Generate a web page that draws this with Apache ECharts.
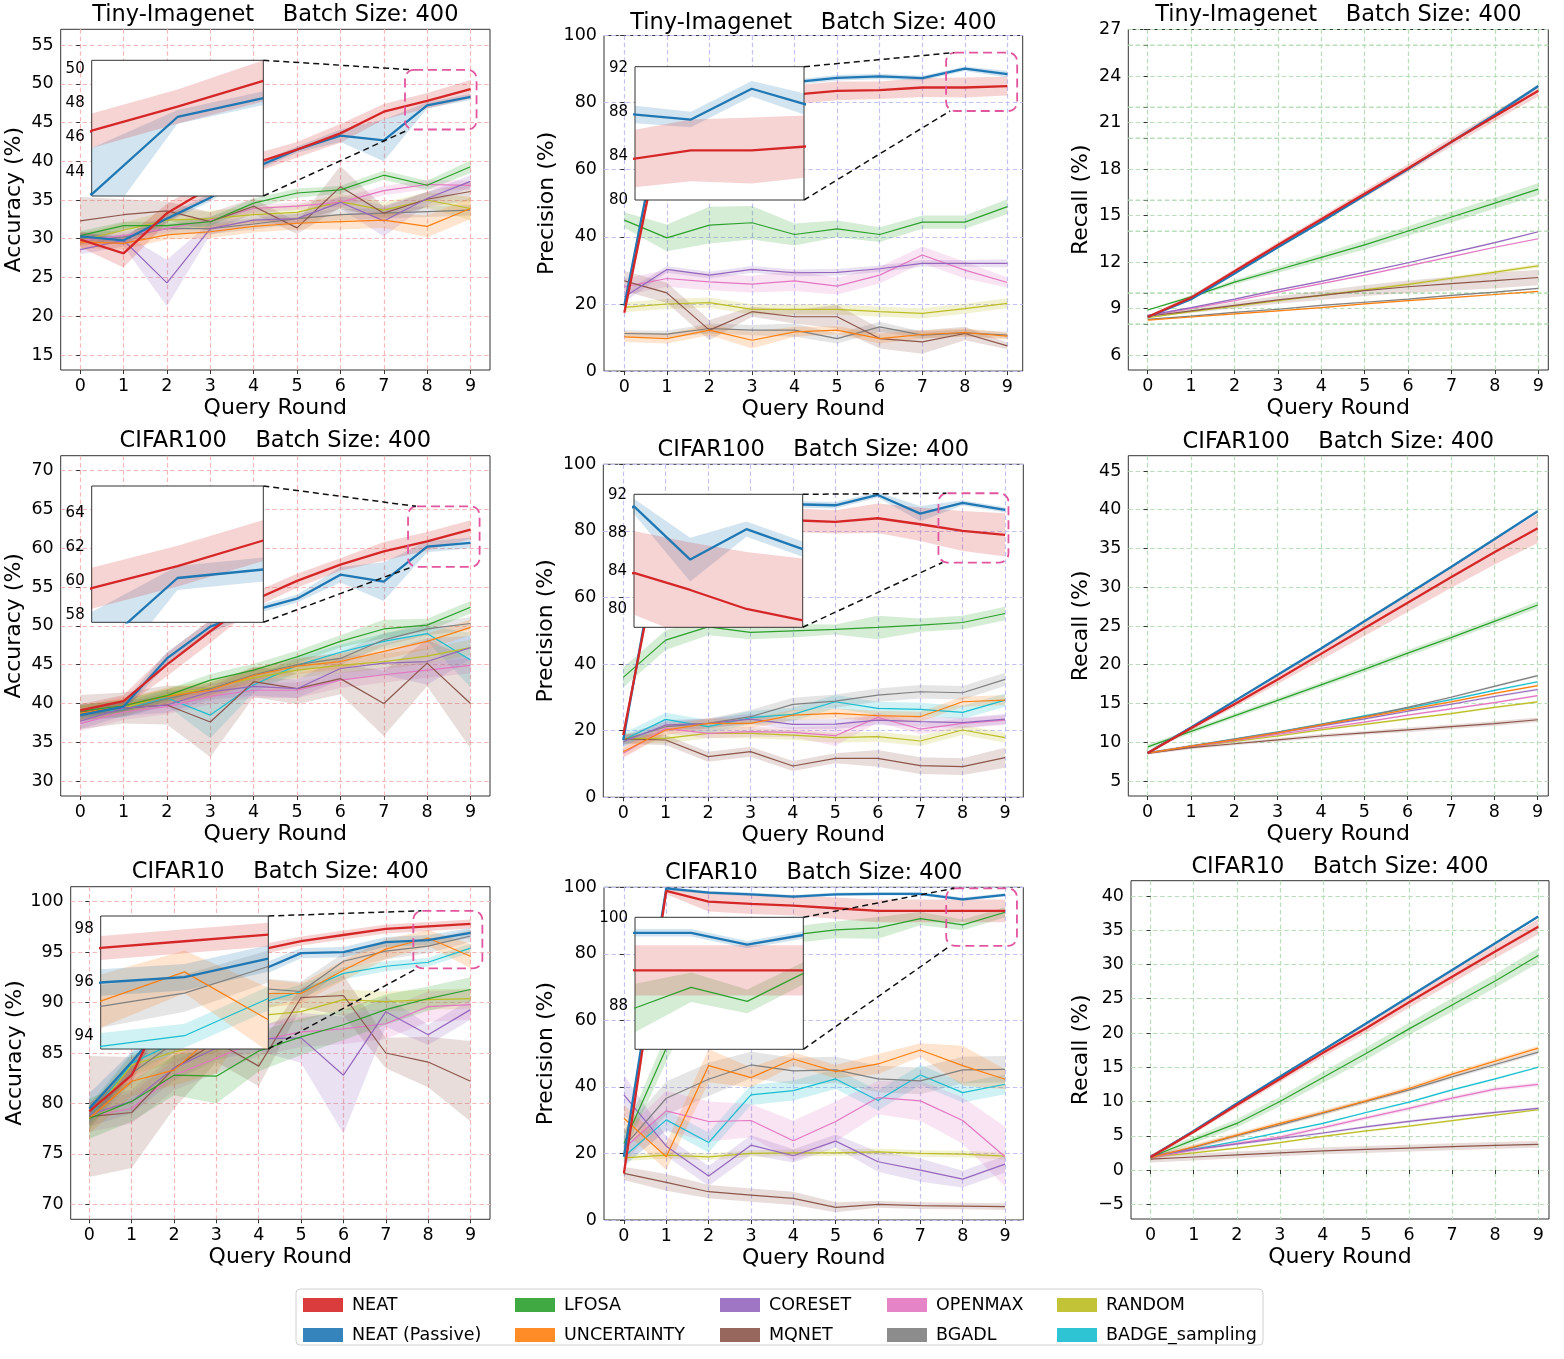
<!DOCTYPE html>
<html>
<head>
<meta charset="utf-8">
<script src="https://cdn.jsdelivr.net/npm/echarts@6/dist/echarts.min.js"></script>
<style>
  html, body { margin: 0; padding: 0; background: #fff; }
  #chart { width: 1564px; height: 1359px; }
</style>
</head>
<body>
<div id="chart"></div>
<script>
// ---- data ----
const rounds = [0, 1, 2, 3, 4, 5, 6, 7, 8, 9];
const methods = ['NEAT', 'NEAT (Passive)', 'LFOSA', 'UNCERTAINTY', 'CORESET', 'MQNET', 'OPENMAX', 'BGADL', 'RANDOM', 'BADGE_sampling'];
const colors = ['#d62728', '#1f77b4', '#2ca02c', '#ff7f0e', '#9467bd', '#8c564b', '#e377c2', '#7f7f7f', '#bcbd22', '#17becf'];

// tick labels
const accTicksTiny = [15, 20, 25, 30, 35, 40, 45, 50, 55];
const accTicksC100 = [30, 35, 40, 45, 50, 55, 60, 65, 70];
const accTicksC10 = [70, 75, 80, 85, 90, 95, 100];
const precTicks = [0, 20, 40, 60, 80, 100];
const recallTicksTiny = [6, 9, 12, 15, 18, 21, 24, 27];
const recallMinorTiny = [8, 10, 14, 16, 20, 22, 26];
const recallTicksC100 = [5, 10, 15, 20, 25, 30, 35, 40, 45];
const recallTicksC10 = [-5, 0, 5, 10, 15, 20, 25, 30, 35, 40];
const insetTicksTinyAcc = [44, 46, 48, 50];
const insetTicksTinyPrec = [80, 84, 88, 92];
const insetTicksC100Acc = [58, 60, 62, 64];
const insetTicksC100Prec = [80, 84, 88, 92];
const insetTicksC10Acc = [94, 96, 98];
const insetTicksC10Prec = [88, 100];

// means, in the order of `methods` (null = not run)
const tinyAcc = [
  [29.9, 28.1, 33.3, 36.6, 39.7, 41.5, 43.6, 46.4, 47.8, 49.3],
  [30.3, 29.8, 32.6, 35.3, 39.1, 41.5, 43.3, 42.7, 47.2, 48.3],
  [30.4, 31.7, 31.7, 32.2, 34.6, 35.9, 36.3, 38.2, 36.9, 39.3],
  [29.6, 29.4, 30.5, 30.9, 31.6, 32.0, 32.2, 32.4, 31.6, 33.9],
  [28.6, 29.8, 24.3, 31.3, 32.4, 32.6, 34.7, 32.3, 35.2, 37.4],
  [32.3, 33.1, 33.6, 32.2, 34.2, 31.4, 36.7, 33.3, 35.1, 36.1],
  [29.8, 30.4, 31.3, 32.4, 33.9, 34.2, 34.7, 36.2, 37.0, 36.9],
  [30.1, 30.2, 31.3, 31.3, 31.9, 32.6, 33.1, 33.3, 33.5, 33.7],
  [29.8, 31.1, 32.4, 32.6, 33.1, 33.4, 34.8, 33.7, 35.0, 33.9],
  null
];
const tinyAccBand = [
  [1.0, 1.8, 1.2, 1.2, 1.2, 1.0, 1.2, 1.0, 1.0, 1.2],
  [0.4, 0.6, 0.5, 0.5, 0.5, 0.4, 0.8, 2.7, 0.4, 0.4],
  [0.6, 0.5, 0.5, 0.6, 0.6, 0.6, 0.5, 0.6, 0.6, 0.8],
  [0.8, 0.8, 0.6, 0.8, 0.8, 0.8, 1.0, 1.0, 1.4, 1.4],
  [0.6, 0.8, 3.0, 0.8, 0.6, 0.6, 0.8, 2.0, 0.8, 0.8],
  [3.1, 2.0, 1.2, 1.2, 1.0, 0.8, 2.7, 0.8, 1.0, 1.2],
  [0.5, 0.5, 0.5, 0.5, 0.5, 0.5, 0.6, 0.6, 0.6, 0.6],
  [0.8, 0.8, 0.7, 0.7, 0.7, 0.7, 0.7, 0.7, 0.7, 0.7],
  [0.8, 1.0, 1.2, 1.0, 1.0, 1.0, 1.0, 1.0, 1.0, 1.5],
  null
];

const tinyPrec = [
  [17.4, 79.5, 81.0, 82.0, 82.4, 83.5, 83.7, 84.5, 84.5, 84.9],
  [19.5, 84.0, 85.0, 86.0, 86.1, 87.4, 87.8, 87.3, 90.1, 88.5],
  [45.0, 39.7, 43.5, 44.2, 40.7, 42.4, 40.7, 44.4, 44.4, 49.0],
  [10.2, 9.7, 12.2, 9.2, 11.7, 12.2, 9.7, 10.9, 11.5, 10.4],
  [22.1, 30.3, 28.6, 30.3, 29.3, 29.4, 30.5, 32.1, 32.1, 32.1],
  [26.9, 23.3, 12.2, 17.7, 16.2, 16.2, 9.7, 8.7, 11.2, 7.5],
  [25.1, 27.6, 26.6, 25.9, 26.9, 25.3, 28.6, 34.6, 30.1, 26.4],
  [11.2, 11.0, 12.7, 12.2, 12.2, 9.7, 13.2, 10.7, 11.4, 10.7],
  [19.0, 20.0, 20.4, 18.4, 18.4, 18.4, 17.7, 17.2, 18.6, 20.2],
  null
];
const tinyPrecBand = [
  [1.0, 3.0, 3.0, 3.0, 2.8, 2.8, 2.6, 2.8, 3.0, 2.8],
  [1.0, 1.0, 1.0, 1.0, 0.8, 0.8, 0.8, 0.7, 0.7, 1.0],
  [2.3, 4.0, 5.5, 5.0, 3.3, 2.5, 2.2, 2.0, 2.0, 2.2],
  [1.5, 1.5, 1.5, 2.5, 1.5, 1.2, 1.5, 1.2, 1.2, 1.0],
  [1.5, 1.0, 1.0, 1.0, 1.0, 1.0, 1.0, 1.0, 1.0, 1.2],
  [3.0, 3.0, 3.0, 1.5, 2.0, 3.5, 3.0, 3.5, 2.0, 1.0],
  [2.5, 2.5, 2.5, 2.5, 3.0, 2.5, 2.5, 2.5, 2.5, 1.5],
  [1.0, 1.0, 1.5, 1.5, 2.0, 1.5, 1.5, 1.0, 1.0, 1.0],
  [1.5, 1.5, 1.5, 1.5, 1.5, 1.5, 1.5, 1.5, 1.5, 1.5],
  null
];

const tinyRecall = [
  [8.45, 9.7, 11.4, 13.1, 14.75, 16.4, 18.05, 19.75, 21.4, 23.05],
  [8.45, 9.6, 11.25, 12.95, 14.6, 16.3, 18.0, 19.75, 21.5, 23.35],
  [8.9, 9.75, 10.7, 11.5, 12.3, 13.1, 14.0, 14.9, 15.8, 16.7],
  [8.25, 8.45, 8.65, 8.85, 9.05, 9.3, 9.5, 9.7, 9.9, 10.1],
  [8.55, 9.05, 9.6, 10.2, 10.75, 11.35, 11.95, 12.6, 13.25, 13.95],
  [8.5, 8.85, 9.2, 9.55, 9.85, 10.15, 10.4, 10.6, 10.8, 11.0],
  [8.5, 9.0, 9.5, 10.05, 10.6, 11.15, 11.75, 12.35, 12.95, 13.5],
  [8.3, 8.5, 8.75, 8.95, 9.2, 9.4, 9.6, 9.85, 10.05, 10.3],
  [8.4, 8.8, 9.15, 9.5, 9.85, 10.2, 10.55, 10.95, 11.35, 11.75],
  null
];
const tinyRecallBand = [
  [0.1, 0.12, 0.15, 0.18, 0.2, 0.22, 0.25, 0.28, 0.3, 0.35],
  [0.05, 0.06, 0.07, 0.08, 0.1, 0.1, 0.1, 0.12, 0.12, 0.12],
  [0.05, 0.1, 0.15, 0.2, 0.25, 0.3, 0.3, 0.35, 0.35, 0.4],
  [0.05, 0.05, 0.05, 0.05, 0.05, 0.05, 0.05, 0.05, 0.05, 0.05],
  [0.05, 0.05, 0.05, 0.05, 0.05, 0.05, 0.05, 0.05, 0.05, 0.05],
  [0.1, 0.15, 0.2, 0.25, 0.3, 0.35, 0.4, 0.45, 0.5, 0.5],
  [0.05, 0.05, 0.05, 0.05, 0.05, 0.05, 0.05, 0.05, 0.05, 0.05],
  [0.05, 0.05, 0.05, 0.05, 0.05, 0.05, 0.05, 0.05, 0.05, 0.05],
  [0.05, 0.05, 0.06, 0.07, 0.08, 0.09, 0.1, 0.1, 0.12, 0.12],
  null
];

const c100Acc = [
  [39.1, 40.3, 45.0, 49.3, 53.3, 55.8, 57.9, 59.6, 60.9, 62.4],
  [38.5, 39.6, 45.8, 49.9, 52.0, 53.5, 56.6, 55.7, 60.2, 60.7],
  [39.0, 39.7, 41.0, 43.0, 44.3, 46.0, 48.0, 49.6, 50.1, 52.4],
  [38.7, 39.8, 40.9, 41.7, 43.6, 44.8, 45.4, 46.7, 48.0, 49.8],
  [37.7, 39.4, 39.8, 41.5, 42.2, 41.9, 44.5, 45.2, 45.4, 47.2],
  [38.9, 39.4, 39.8, 37.6, 42.8, 41.9, 43.2, 40.0, 45.2, 40.0],
  [37.4, 38.9, 39.6, 40.9, 41.7, 41.7, 43.0, 43.7, 44.3, 44.9],
  [38.5, 39.1, 40.6, 41.9, 43.7, 45.0, 45.8, 48.2, 49.6, 50.3],
  [38.8, 39.4, 41.1, 42.0, 43.3, 44.3, 44.9, 45.4, 46.1, 47.2],
  [38.9, 39.2, 40.7, 38.5, 42.4, 44.9, 46.6, 48.0, 49.0, 45.6]
];
const c100AccBand = [
  [0.8, 0.8, 1.5, 1.5, 1.0, 0.9, 0.8, 1.2, 1.2, 1.2],
  [0.6, 0.6, 0.8, 0.8, 0.5, 0.5, 1.0, 2.5, 0.7, 0.7],
  [0.8, 0.8, 0.8, 0.8, 0.8, 0.8, 0.8, 1.2, 0.8, 0.8],
  [1.0, 1.0, 1.0, 1.0, 1.0, 1.0, 1.0, 1.0, 1.0, 1.0],
  [1.0, 1.0, 1.0, 1.0, 1.2, 1.2, 1.5, 1.5, 3.0, 1.5],
  [2.2, 2.0, 2.5, 4.5, 2.0, 2.0, 2.0, 4.2, 3.0, 5.8],
  [1.0, 1.0, 1.0, 1.0, 1.0, 1.0, 1.0, 1.0, 1.0, 1.0],
  [0.8, 0.8, 0.8, 0.8, 0.8, 0.8, 0.8, 0.8, 0.8, 0.8],
  [1.0, 1.0, 1.0, 1.0, 1.0, 1.0, 1.0, 1.0, 1.0, 1.0],
  [1.0, 1.0, 1.0, 3.0, 1.0, 1.0, 1.0, 1.0, 1.0, 3.5]
];

const c100Prec = [
  [18.7, 84.0, 84.5, 84.0, 83.2, 82.7, 83.8, 82.0, 80.0, 78.8],
  [17.2, 88.0, 87.5, 88.0, 88.0, 87.7, 90.8, 85.2, 88.4, 86.3],
  [36.0, 47.2, 51.2, 49.5, 50.0, 50.4, 51.0, 51.7, 52.5, 55.2],
  [13.7, 20.2, 22.2, 22.2, 24.7, 25.2, 24.5, 24.2, 28.7, 29.2],
  [16.7, 21.7, 22.2, 23.5, 21.9, 22.0, 23.2, 22.7, 22.4, 23.5],
  [17.5, 17.2, 12.2, 13.7, 9.4, 11.7, 11.7, 9.5, 9.2, 11.9],
  [13.2, 20.7, 19.2, 19.7, 19.5, 18.5, 24.0, 20.5, 22.2, 23.2],
  [17.2, 21.2, 22.2, 24.2, 27.9, 28.9, 30.7, 31.7, 31.4, 35.4],
  [17.7, 17.7, 19.2, 19.2, 18.7, 17.9, 18.2, 16.9, 20.2, 17.9],
  [17.2, 23.4, 21.2, 23.9, 24.9, 28.7, 26.7, 26.4, 25.5, 29.2]
];
const c100PrecBand = [
  [1.0, 3.0, 3.0, 3.0, 3.5, 3.5, 4.4, 5.0, 6.0, 6.5],
  [1.0, 1.0, 1.0, 1.0, 1.0, 1.0, 0.8, 2.3, 0.8, 0.8],
  [3.0, 3.0, 2.5, 2.0, 2.0, 1.5, 3.5, 2.0, 2.0, 2.0],
  [1.5, 1.5, 1.5, 1.5, 1.5, 1.5, 1.5, 1.5, 1.5, 1.5],
  [1.5, 1.5, 1.5, 1.5, 1.5, 1.5, 1.5, 1.5, 1.5, 1.5],
  [1.5, 1.5, 1.5, 1.5, 1.5, 1.5, 2.5, 2.5, 2.5, 3.0],
  [1.5, 1.5, 1.5, 1.5, 1.5, 3.0, 1.5, 1.5, 1.5, 1.5],
  [1.5, 1.5, 1.5, 2.0, 2.0, 2.0, 2.0, 2.0, 2.0, 2.0],
  [1.5, 1.5, 1.5, 1.5, 1.5, 1.5, 1.5, 1.5, 1.5, 1.5],
  [2.0, 2.0, 2.0, 2.0, 2.0, 2.0, 2.0, 2.0, 2.0, 2.0]
];

const c100Recall = [
  [8.6, 11.8, 14.9, 18.1, 21.4, 24.7, 28.0, 31.3, 34.5, 37.6],
  [8.6, 11.9, 15.3, 18.7, 22.1, 25.6, 29.1, 32.6, 36.2, 39.8],
  [9.4, 11.4, 13.4, 15.4, 17.4, 19.4, 21.5, 23.5, 25.6, 27.7],
  [8.6, 9.5, 10.3, 11.2, 12.2, 13.2, 14.2, 15.2, 16.3, 17.3],
  [8.6, 9.5, 10.3, 11.2, 12.1, 13.0, 14.0, 14.9, 15.9, 16.8],
  [8.6, 9.3, 9.8, 10.3, 10.8, 11.2, 11.6, 12.0, 12.4, 12.9],
  [8.6, 9.4, 10.2, 11.0, 11.8, 12.6, 13.5, 14.3, 15.1, 16.0],
  [8.6, 9.5, 10.4, 11.3, 12.3, 13.3, 14.5, 15.8, 17.2, 18.6],
  [8.6, 9.4, 10.1, 10.8, 11.6, 12.3, 13.0, 13.7, 14.5, 15.2],
  [8.6, 9.5, 10.4, 11.3, 12.3, 13.4, 14.4, 15.5, 16.7, 17.8]
];
const c100RecallBand = [
  [0.2, 0.3, 0.4, 0.6, 0.8, 1.0, 1.2, 1.4, 1.6, 1.9],
  [0.15, 0.15, 0.15, 0.15, 0.15, 0.15, 0.15, 0.15, 0.15, 0.15],
  [0.3, 0.3, 0.3, 0.35, 0.35, 0.4, 0.4, 0.4, 0.4, 0.45],
  [0.15, 0.15, 0.15, 0.15, 0.15, 0.15, 0.15, 0.15, 0.15, 0.15],
  [0.15, 0.15, 0.15, 0.15, 0.15, 0.15, 0.15, 0.15, 0.15, 0.15],
  [0.2, 0.2, 0.2, 0.25, 0.25, 0.25, 0.3, 0.3, 0.3, 0.3],
  [0.15, 0.15, 0.15, 0.15, 0.15, 0.15, 0.15, 0.15, 0.15, 0.15],
  [0.15, 0.15, 0.15, 0.15, 0.15, 0.15, 0.15, 0.15, 0.15, 0.15],
  [0.15, 0.15, 0.15, 0.15, 0.15, 0.15, 0.15, 0.15, 0.15, 0.15],
  [0.15, 0.15, 0.15, 0.15, 0.15, 0.15, 0.15, 0.15, 0.15, 0.15]
];

const c10Acc = [
  [79.2, 82.8, 91.5, 94.0, 95.2, 96.1, 96.7, 97.3, 97.55, 97.8],
  [79.5, 84.1, 89.0, 91.5, 93.1, 94.9, 95.0, 96.0, 96.2, 96.9],
  [78.5, 80.2, 82.8, 82.7, 85.2, 86.6, 87.8, 89.3, 90.4, 91.3],
  [78.5, 82.2, 83.3, 87.0, 90.9, 90.9, 93.2, 95.3, 96.4, 94.6],
  [78.9, 80.2, 83.5, 85.5, 86.4, 86.5, 82.8, 89.1, 86.8, 89.3],
  [78.7, 79.1, 83.5, 86.1, 83.7, 90.5, 90.7, 85.0, 84.1, 82.2],
  [78.7, 79.5, 82.8, 84.5, 86.2, 87.1, 87.4, 87.9, 89.6, 89.8],
  [78.7, 83.0, 86.0, 88.5, 91.4, 91.1, 94.1, 95.1, 95.6, 96.6],
  [78.5, 83.8, 85.1, 86.0, 88.7, 89.1, 90.3, 90.1, 90.3, 90.4],
  [78.7, 84.0, 86.0, 88.0, 89.9, 91.1, 92.9, 93.6, 94.0, 95.4]
];
const c10AccBand = [
  [0.5, 0.8, 0.6, 0.5, 0.5, 0.45, 0.45, 0.45, 0.45, 0.45],
  [1.5, 1.0, 0.8, 0.8, 0.6, 0.5, 0.5, 0.5, 0.5, 0.5],
  [2.0, 2.0, 2.0, 2.7, 2.0, 1.8, 1.5, 1.5, 1.2, 1.2],
  [1.5, 1.5, 1.5, 4.0, 1.5, 1.0, 1.0, 1.0, 0.8, 1.2],
  [1.2, 1.2, 1.2, 1.2, 1.2, 2.5, 5.8, 1.5, 1.0, 1.0],
  [6.0, 5.5, 4.0, 2.0, 2.0, 1.0, 2.0, 1.5, 2.5, 4.0],
  [1.5, 1.5, 1.5, 1.5, 1.5, 1.5, 1.5, 1.5, 1.5, 1.5],
  [1.0, 1.0, 1.0, 1.0, 1.0, 1.0, 0.8, 0.8, 0.7, 0.6],
  [1.2, 1.0, 1.0, 1.0, 1.0, 1.0, 1.0, 1.0, 1.0, 1.0],
  [1.2, 1.0, 1.0, 1.0, 0.7, 0.7, 0.6, 0.5, 0.45, 0.45]
];

const c10Prec = [
  [14.0, 98.9, 95.7, 95.0, 94.5, 93.7, 92.9, 92.9, 92.9, 92.9],
  [19.0, 99.7, 98.4, 97.9, 97.2, 97.9, 98.0, 98.0, 96.4, 97.7],
  [23.0, 51.6, 78.0, 83.0, 85.7, 87.2, 87.8, 90.6, 88.7, 92.5],
  [30.6, 19.0, 46.4, 42.8, 48.4, 44.6, 46.9, 51.1, 46.4, 42.3],
  [37.6, 22.2, 13.2, 22.5, 19.3, 23.7, 17.5, 15.0, 12.3, 16.8],
  [14.0, 11.3, 8.5, 7.5, 6.5, 3.8, 4.7, 4.3, 4.2, 4.0],
  [21.5, 32.8, 29.6, 29.9, 23.8, 29.6, 36.8, 35.8, 29.9, 19.0],
  [22.0, 36.6, 42.3, 46.6, 44.8, 45.1, 42.4, 41.8, 45.1, 45.3],
  [18.7, 19.5, 19.0, 20.0, 20.2, 20.2, 20.5, 20.0, 19.8, 19.2],
  [19.0, 30.1, 23.3, 37.6, 38.9, 42.4, 35.9, 43.6, 38.3, 40.8]
];
const c10PrecBand = [
  [2.0, 1.0, 3.0, 3.0, 3.0, 3.2, 3.4, 3.4, 3.4, 3.4],
  [1.5, 0.5, 0.5, 0.5, 0.5, 0.5, 0.5, 0.5, 0.5, 0.5],
  [3.0, 4.0, 4.0, 3.0, 2.5, 2.5, 3.3, 2.0, 1.6, 1.5],
  [4.0, 4.0, 5.0, 3.0, 2.0, 2.0, 3.0, 2.0, 6.0, 3.0],
  [6.0, 3.0, 3.0, 3.0, 2.0, 2.0, 3.0, 3.5, 2.5, 2.5],
  [2.0, 2.5, 2.0, 2.0, 2.0, 1.5, 1.0, 1.0, 1.0, 1.0],
  [5.0, 6.0, 6.0, 5.0, 6.0, 6.0, 5.0, 6.0, 7.0, 9.0],
  [5.0, 5.0, 5.0, 4.0, 4.0, 4.0, 4.0, 4.0, 4.0, 4.0],
  [1.0, 1.0, 1.0, 1.0, 1.0, 1.0, 1.0, 1.0, 1.0, 1.0],
  [3.0, 3.0, 3.0, 3.0, 3.0, 3.0, 3.0, 3.0, 3.0, 3.0]
];

const c10Recall = [
  [1.9, 5.6, 9.5, 13.3, 17.1, 20.7, 24.5, 28.2, 31.9, 35.5],
  [1.9, 5.7, 9.7, 13.6, 17.5, 21.4, 25.3, 29.2, 33.1, 37.0],
  [1.9, 4.4, 6.8, 10.0, 13.5, 17.0, 20.6, 24.1, 27.6, 31.3],
  [1.8, 3.4, 5.1, 6.8, 8.4, 10.1, 11.9, 14.0, 15.9, 17.8],
  [2.1, 3.0, 3.8, 4.6, 5.4, 6.3, 7.1, 7.8, 8.4, 9.0],
  [1.6, 1.9, 2.2, 2.5, 2.8, 3.0, 3.2, 3.4, 3.6, 3.75],
  [1.8, 2.9, 3.9, 4.8, 6.2, 7.6, 9.0, 10.5, 11.8, 12.5],
  [1.8, 3.3, 5.0, 6.6, 8.3, 10.0, 11.7, 13.6, 15.4, 17.2],
  [1.9, 2.5, 3.2, 4.0, 4.9, 5.7, 6.4, 7.2, 8.0, 8.8],
  [1.8, 3.0, 4.2, 5.5, 6.8, 8.4, 9.9, 11.7, 13.3, 15.0]
];
const c10RecallBand = [
  [0.3, 0.3, 0.4, 0.5, 0.6, 0.7, 0.8, 0.9, 1.0, 1.1],
  [0.15, 0.15, 0.15, 0.15, 0.15, 0.15, 0.15, 0.15, 0.15, 0.15],
  [0.3, 0.5, 0.6, 0.7, 0.8, 0.9, 0.9, 1.0, 1.0, 1.1],
  [0.35, 0.35, 0.35, 0.35, 0.35, 0.35, 0.35, 0.35, 0.35, 0.35],
  [0.2, 0.2, 0.2, 0.2, 0.2, 0.2, 0.2, 0.2, 0.2, 0.2],
  [0.5, 0.5, 0.5, 0.5, 0.5, 0.5, 0.5, 0.5, 0.5, 0.5],
  [0.3, 0.3, 0.3, 0.3, 0.3, 0.3, 0.3, 0.3, 0.3, 0.3],
  [0.3, 0.3, 0.3, 0.3, 0.3, 0.3, 0.3, 0.3, 0.3, 0.3],
  [0.15, 0.15, 0.15, 0.15, 0.15, 0.15, 0.15, 0.15, 0.15, 0.15],
  [0.15, 0.15, 0.15, 0.15, 0.15, 0.15, 0.15, 0.15, 0.15, 0.15]
];

// ---- layout ----
const FONT = 'DejaVu Sans';
const ACC_GRID = '#f5b9b9', PREC_GRID = '#c2c2f3', REC_GRID = '#b8dfb8';
const DASH = [4.5, 2.8];
const T1 = 'Tiny-Imagenet    Batch Size: 400', T2 = 'CIFAR100    Batch Size: 400', T3 = 'CIFAR10    Batch Size: 400';

// rect = [left, top, width, height] of the axes frame
const panels = [
  { title: T1, yName: 'Accuracy (%)', mean: tinyAcc, band: tinyAccBand, ticks: accTicksTiny, gc: ACC_GRID,
    rect: [60.7, 29.3, 429.3, 340.7], xr: [-0.45, 9.45], yr: [13.06, 57.03], gap: 35, titleY: 15 },
  { title: T1, yName: 'Precision (%)', mean: tinyPrec, band: tinyPrecBand, ticks: precTicks, gc: PREC_GRID,
    rect: [604, 35.5, 418.7, 335.6], xr: [-0.477, 9.36], yr: [0, 100], gap: 46, titleY: 23 },
  { title: T1, yName: 'Recall (%)', mean: tinyRecall, band: tinyRecallBand, ticks: recallTicksTiny, gc: REC_GRID,
    rect: [1128.3, 29.5, 420, 340.5], xr: [-0.447, 9.23], yr: [5.03, 27], gap: 35.6, titleY: 15, minor: recallMinorTiny },
  { title: T2, yName: 'Accuracy (%)', mean: c100Acc, band: c100AccBand, ticks: accTicksC100, gc: ACC_GRID,
    rect: [60.7, 455.7, 429.3, 340.3], xr: [-0.45, 9.45], yr: [28.07, 71.93], gap: 35, titleY: 441 },
  { title: T2, yName: 'Precision (%)', mean: c100Prec, band: c100PrecBand, ticks: precTicks, gc: PREC_GRID,
    rect: [603.3, 464.3, 420, 333], xr: [-0.47, 9.43], yr: [0, 100], gap: 46, titleY: 450 },
  { title: T2, yName: 'Recall (%)', mean: c100Recall, band: c100RecallBand, ticks: recallTicksC100, gc: REC_GRID,
    rect: [1128.3, 455.7, 420, 340.3], xr: [-0.447, 9.245], yr: [3.06, 46.97], gap: 35.6, titleY: 441.7 },
  { title: T3, yName: 'Accuracy (%)', mean: c10Acc, band: c10AccBand, ticks: accTicksC10, gc: ACC_GRID,
    rect: [70.7, 886.7, 419.3, 332.6], xr: [-0.44, 9.46], yr: [68.51, 101.49], gap: 44.7, titleY: 871.7 },
  { title: T3, yName: 'Precision (%)', mean: c10Prec, band: c10PrecBand, ticks: precTicks, gc: PREC_GRID,
    rect: [604, 887.3, 419.3, 332.7], xr: [-0.47, 9.43], yr: [0, 100], gap: 46.3, titleY: 873.3 },
  { title: T3, yName: 'Recall (%)', mean: c10Recall, band: c10RecallBand, ticks: recallTicksC10, gc: REC_GRID,
    rect: [1131, 880.7, 418, 338.3], xr: [-0.457, 9.25], yr: [-7.15, 42.23], gap: 38.3, titleY: 867.3 }
];

// zoomed insets; box = zoom marker in parent data coords [x0, x1, y0, y1]
const insets = [
  { panel: 0, rect: [91.7, 60.3, 171.6, 135.7], xr: [7, 9], yr: [42.6, 50.5], ticks: insetTicksTinyAcc, box: [7.49, 9.14, 44.1, 51.8] },
  { panel: 1, rect: [635, 66.7, 169, 133.3], xr: [6.08, 8.86], yr: [80, 92.1], ticks: insetTicksTinyPrec, box: [7.56, 9.23, 77.5, 94.9] },
  { panel: 3, rect: [91.7, 486, 171.6, 136.3], xr: [7, 9], yr: [57.6, 65.6], ticks: insetTicksC100Acc, box: [7.56, 9.21, 57.6, 65.4] },
  { panel: 4, rect: [634, 494.3, 168.7, 133], xr: [6, 9], yr: [78.07, 92.07], ticks: insetTicksC100Prec, box: [7.43, 9.08, 70.5, 91.3] },
  { panel: 6, rect: [100.7, 916, 167.6, 133], xr: [7, 9], yr: [93.5, 98.5], ticks: insetTicksC10Acc, box: [7.65, 9.28, 93.4, 99.1] },
  { panel: 7, rect: [635, 917.3, 168.3, 132], xr: [6, 9], yr: [82.2, 100.1], ticks: insetTicksC10Prec, box: [7.61, 9.28, 82.4, 99.7] }
];

const chart = echarts.init(document.getElementById('chart'));

const grids = [], xAxes = [], yAxes = [], series = [], titles = [];
const minus = v => String(v).replace('-', '\u2212');

panels.forEach((p, i) => {
  grids.push({ left: p.rect[0], top: p.rect[1], width: p.rect[2], height: p.rect[3], show: true,
    borderColor: '#333', borderWidth: 1, backgroundColor: 'transparent', outerBoundsMode: 'none' });
  const split = { show: true, lineStyle: { color: p.gc, type: DASH, width: 1.2 } };
  const step = p.ticks[1] - p.ticks[0];
  // grid lines follow the tick positions; Tiny-Imagenet recall also has lines every 2 units
  const lineVals = p.minor ? p.ticks.concat(p.minor).sort((a, b) => a - b) : p.ticks;
  xAxes.push({ gridIndex: i, type: 'value', min: p.xr[0], max: p.xr[1], minInterval: 1, maxInterval: 1,
    axisLine: { show: false }, splitLine: split,
    axisTick: { show: true, length: 4, lineStyle: { color: '#333' }, customValues: rounds },
    axisLabel: { customValues: rounds, fontSize: 17.5, color: '#000', fontFamily: FONT, margin: 7 },
    name: 'Query Round', nameLocation: 'middle', nameGap: 27,
    nameTextStyle: { fontSize: 22, color: '#000', fontFamily: FONT } });
  yAxes.push({ gridIndex: i, type: 'value', min: p.yr[0], max: p.yr[1], minInterval: step, maxInterval: step,
    axisLine: { show: false }, splitLine: split,
    axisTick: { show: true, length: 4, lineStyle: { color: '#333' }, customValues: lineVals },
    axisLabel: { customValues: p.ticks, fontSize: 17.5, color: '#000', fontFamily: FONT, margin: 7, formatter: minus },
    name: p.yName, nameLocation: 'middle', nameGap: p.gap,
    nameTextStyle: { fontSize: 22, color: '#000', fontFamily: FONT } });
  titles.push({ text: p.title, left: p.rect[0] + p.rect[2] / 2, top: p.titleY, textAlign: 'center',
    textVerticalAlign: 'middle', padding: 0,
    textStyle: { fontSize: 22.5, fontWeight: 'normal', color: '#000', fontFamily: FONT } });
});

insets.forEach((ins, k) => {
  const g = panels.length + k;
  grids.push({ left: ins.rect[0], top: ins.rect[1], width: ins.rect[2], height: ins.rect[3], show: true,
    borderColor: '#333', borderWidth: 1, backgroundColor: '#fff', z: 10, outerBoundsMode: 'none' });
  xAxes.push({ gridIndex: g, type: 'value', min: ins.xr[0], max: ins.xr[1], z: 14,
    axisLine: { show: false }, axisTick: { show: false }, axisLabel: { show: false }, splitLine: { show: false } });
  yAxes.push({ gridIndex: g, type: 'value', min: ins.yr[0], max: ins.yr[1], z: 14,
    axisLine: { show: false }, axisTick: { show: false }, splitLine: { show: false },
    axisLabel: { customValues: ins.ticks, fontSize: 15, color: '#000', fontFamily: FONT, margin: 7 } });
});

function bandSeries(g, m, mu, h, z) {
  return {
    type: 'custom', xAxisIndex: g, yAxisIndex: g, z: z, silent: true, clip: true,
    data: rounds.map((r, i) => [r, mu[i]]),
    encode: { x: 0, y: 1 },
    renderItem: function (params, api) {
      if (params.dataIndex !== 0) return null;
      const up = rounds.map((r, i) => api.coord([r, mu[i] + h[i]]));
      const lo = rounds.map((r, i) => api.coord([r, mu[i] - h[i]])).reverse();
      const cs = params.coordSys;
      return {
        type: 'polygon', shape: { points: up.concat(lo) },
        style: { fill: colors[m], opacity: 0.2 },
        clipPath: { type: 'rect', shape: { x: cs.x, y: cs.y, width: cs.width, height: cs.height } }
      };
    }
  };
}

function addSeries(p, g, zBase) {
  for (let m = methods.length - 1; m >= 0; m--) {
    if (!p.mean[m]) continue;
    series.push(bandSeries(g, m, p.mean[m], p.band[m], zBase));
  }
  for (let m = methods.length - 1; m >= 0; m--) {
    const mu = p.mean[m];
    if (!mu) continue;
    series.push({
      name: methods[m], type: 'line', xAxisIndex: g, yAxisIndex: g, z: zBase + 1,
      data: rounds.map((r, i) => [r, mu[i]]),
      symbol: 'none', showSymbol: false, clip: true, silent: true,
      itemStyle: { color: colors[m] },
      lineStyle: { color: colors[m], width: m < 2 ? 2.3 : 1.2 }
    });
  }
}

panels.forEach((p, i) => addSeries(p, i, 2));
insets.forEach((ins, k) => addSeries(panels[ins.panel], panels.length + k, 12));

const legendX = [303, 515, 720, 887, 1057];
const legends = legendX.map((x, c) => ({
  data: [methods[2 * c], methods[2 * c + 1]].map(n => ({ name: n, itemStyle: { color: colors[methods.indexOf(n)], opacity: 0.9 } })),
  orient: 'vertical', left: x, top: 1296, padding: 0, itemGap: 12, itemWidth: 40, itemHeight: 14,
  icon: 'rect', selectedMode: false,
  textStyle: { fontSize: 17.5, color: '#000', fontFamily: FONT, padding: [0, 0, 0, 4] }
}));

chart.setOption({
  animation: false,
  backgroundColor: '#fff',
  title: titles,
  grid: grids,
  xAxis: xAxes,
  yAxis: yAxes,
  legend: legends,
  series: series
});

// graphic overlay: legend frame, extra grid lines, zoom markers and connector lines,
// all placed through the axes' own scales
const marks = [{ type: 'rect', silent: true, z: 0,
  shape: { x: 296, y: 1289, width: 967, height: 56, r: 4 },
  style: { fill: 'none', stroke: '#d0d0d0', lineWidth: 1 } }];

panels.forEach((p, i) => {
  if (!p.minor) return;
  p.minor.forEach(v => {
    const a = chart.convertToPixel({ gridIndex: i }, [p.xr[0], v]);
    const b = chart.convertToPixel({ gridIndex: i }, [p.xr[1], v]);
    marks.push({ type: 'line', silent: true, z: 1,
      shape: { x1: a[0], y1: a[1], x2: b[0], y2: b[1] },
      style: { stroke: p.gc, lineWidth: 1.2, lineDash: DASH } });
  });
});

insets.forEach((ins, k) => {
  const g = panels.length + k, b = ins.box;
  const tl = chart.convertToPixel({ gridIndex: ins.panel }, [b[0], b[3]]);
  const br = chart.convertToPixel({ gridIndex: ins.panel }, [b[1], b[2]]);
  const itr = chart.convertToPixel({ gridIndex: g }, [ins.xr[1], ins.yr[1]]);
  const ibr = chart.convertToPixel({ gridIndex: g }, [ins.xr[1], ins.yr[0]]);
  marks.push({ type: 'rect', silent: true, z: 20,
    shape: { x: tl[0], y: tl[1], width: br[0] - tl[0], height: br[1] - tl[1], r: 9 },
    style: { fill: 'none', stroke: '#e2559f', lineWidth: 1.8, lineDash: [9, 5] } });
  marks.push({ type: 'line', silent: true, z: 20,
    shape: { x1: itr[0], y1: itr[1], x2: tl[0] + 8, y2: tl[1] },
    style: { stroke: '#111', lineWidth: 1.5, lineDash: [6, 4] } });
  marks.push({ type: 'line', silent: true, z: 20,
    shape: { x1: ibr[0], y1: ibr[1], x2: tl[0] + 4, y2: br[1] },
    style: { stroke: '#111', lineWidth: 1.5, lineDash: [6, 4] } });
});
chart.setOption({ graphic: marks });
</script>
</body>
</html>
